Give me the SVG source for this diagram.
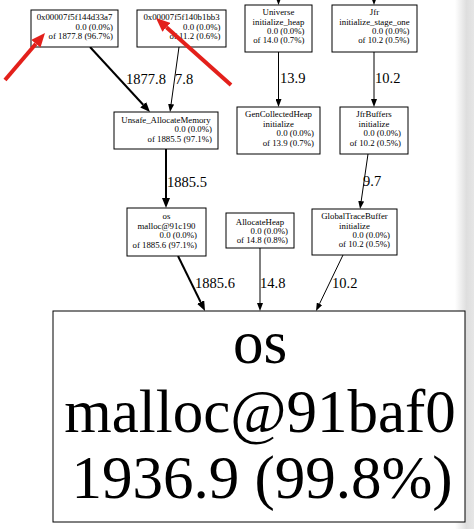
<svg xmlns="http://www.w3.org/2000/svg" width="474" height="529" viewBox="0 0 474 529">
<style>
text{font-family:"Liberation Serif","Times New Roman",serif;fill:#000}
.n text{font-size:8.8px}
.box{fill:#fff;stroke:#000;stroke-width:1}
.c{text-anchor:middle}
.r{text-anchor:end}
.lbl{font-size:14.5px}
.e1{stroke:#000;stroke-width:1;fill:none}
.e2{stroke:#000;stroke-width:2;fill:none}
.red{stroke:#e3201b;stroke-width:4;fill:none}
.big text{font-size:61px;text-anchor:middle}
</style>
<defs>
<marker id="ahS" markerUnits="userSpaceOnUse" viewBox="0 0 8 6" markerWidth="8" markerHeight="6" refX="0" refY="3" orient="auto"><path d="M0,0 L8,3 L0,6 z" fill="#000"/></marker>
<marker id="ahL" markerUnits="userSpaceOnUse" viewBox="0 0 10 8" markerWidth="10" markerHeight="8" refX="0" refY="4" orient="auto"><path d="M0,0 L10,4 L0,8 z" fill="#000"/></marker>
<marker id="ahR" markerUnits="userSpaceOnUse" viewBox="0 0 14 12" markerWidth="14" markerHeight="12" refX="0" refY="6" orient="auto"><path d="M0,0 L14,6 L0,12 z" fill="#e3201b"/></marker>
<linearGradient id="strip" x1="0" y1="0" x2="1" y2="0">
<stop offset="0" stop-color="#ffffff"/>
<stop offset="0.6" stop-color="#dedede"/>
<stop offset="1" stop-color="#e6e6e6"/>
</linearGradient>
</defs>
<rect width="474" height="529" fill="#fff"/>
<rect x="455" y="0" width="19" height="529" fill="url(#strip)"/>

<g id="edges">
<line class="e1" x1="278.5" y1="-12" x2="278.5" y2="-3" marker-end="url(#ahS)"/>
<line class="e1" x1="374" y1="-12" x2="374" y2="-3" marker-end="url(#ahS)"/>
<line class="e2" x1="90" y1="47" x2="143.2" y2="104.7" marker-end="url(#ahL)"/>
<line class="e1" x1="179" y1="47" x2="171.1" y2="104.1" marker-end="url(#ahS)"/>
<line class="e1" x1="278.5" y1="52" x2="278.5" y2="99" marker-end="url(#ahS)"/>
<line class="e1" x1="374" y1="52" x2="374" y2="99" marker-end="url(#ahS)"/>
<line class="e2" x1="166" y1="149" x2="166" y2="198" marker-end="url(#ahL)"/>
<line class="e1" x1="368" y1="154" x2="361.2" y2="201.1" marker-end="url(#ahS)"/>
<line class="e2" x1="178" y1="256" x2="200.6" y2="302" marker-end="url(#ahL)"/>
<line class="e1" x1="260" y1="248" x2="260" y2="303" marker-end="url(#ahS)"/>
<line class="e1" x1="343" y1="255" x2="319.5" y2="303.8" marker-end="url(#ahS)"/>
<text class="lbl" x="126" y="84">1877.8</text>
<text class="lbl" x="175" y="84">7.8</text>
<text class="lbl" x="280" y="83">13.9</text>
<text class="lbl" x="375" y="83">10.2</text>
<text class="lbl" x="167" y="187">1885.5</text>
<text class="lbl" x="363" y="186">9.7</text>
<text class="lbl" x="195" y="288">1885.6</text>
<text class="lbl" x="260" y="288">14.8</text>
<text class="lbl" x="332" y="288">10.2</text>
</g>

<g id="n1" class="n">
<rect class="box" x="31" y="10" width="87" height="37"/>
<text class="c" x="74.5" y="20">0x00007f5f144d33a7</text>
<text class="r" x="113" y="29.5">0.0 (0.0%)</text>
<text class="r" x="113" y="39">of 1877.8 (96.7%)</text>
</g>
<g id="n2" class="n">
<rect class="box" x="137" y="10" width="89" height="37"/>
<text class="c" x="181.5" y="20">0x00007f5f140b1bb3</text>
<text class="r" x="220.5" y="29.5">0.0 (0.0%)</text>
<text class="r" x="220.5" y="39">of 11.2 (0.6%)</text>
</g>
<g id="n3" class="n">
<rect class="box" x="245" y="5" width="67" height="47"/>
<text class="c" x="278.5" y="15">Universe</text>
<text class="c" x="278.5" y="24.5">initialize_heap</text>
<text class="r" x="304.5" y="34">0.0 (0.0%)</text>
<text class="r" x="304.5" y="43">of 14.0 (0.7%)</text>
</g>
<g id="n4" class="n">
<rect class="box" x="332" y="5" width="85" height="47"/>
<text class="c" x="374.5" y="15">Jfr</text>
<text class="c" x="374.5" y="24.5">initialize_stage_one</text>
<text class="r" x="409.5" y="34">0.0 (0.0%)</text>
<text class="r" x="409.5" y="43">of 10.2 (0.5%)</text>
</g>
<g id="n5" class="n">
<rect class="box" x="237" y="107" width="83" height="47"/>
<text class="c" x="278.5" y="117">GenCollectedHeap</text>
<text class="c" x="278.5" y="126.5">initialize</text>
<text class="r" x="314" y="136">0.0 (0.0%)</text>
<text class="r" x="314" y="145.5">of 13.9 (0.7%)</text>
</g>
<g id="n6" class="n">
<rect class="box" x="340" y="107" width="68" height="47"/>
<text class="c" x="374" y="117">JfrBuffers</text>
<text class="c" x="374" y="126.5">initialize</text>
<text class="r" x="401" y="136">0.0 (0.0%)</text>
<text class="r" x="401" y="145.5">of 10.2 (0.5%)</text>
</g>
<g id="n7" class="n">
<rect class="box" x="114" y="112" width="104" height="37"/>
<text class="c" x="166" y="123">Unsafe_AllocateMemory</text>
<text class="r" x="212" y="132">0.0 (0.0%)</text>
<text class="r" x="212" y="141.5">of 1885.5 (97.1%)</text>
</g>
<g id="n8" class="n">
<rect class="box" x="127" y="208" width="79" height="48"/>
<text class="c" x="166.5" y="219">os</text>
<text class="c" x="166.5" y="228.5">malloc@91c190</text>
<text class="r" x="197" y="238">0.0 (0.0%)</text>
<text class="r" x="197" y="247.5">of 1885.6 (97.1%)</text>
</g>
<g id="n9" class="n">
<rect class="box" x="226" y="213" width="68" height="35"/>
<text class="c" x="260" y="225">AllocateHeap</text>
<text class="r" x="288" y="233.5">0.0 (0.0%)</text>
<text class="r" x="288" y="242.5">of 14.8 (0.8%)</text>
</g>
<g id="n10" class="n">
<rect class="box" x="312" y="209" width="85" height="46"/>
<text class="c" x="354.5" y="219">GlobalTraceBuffer</text>
<text class="c" x="354.5" y="228.5">initialize</text>
<text class="r" x="390" y="238">0.0 (0.0%)</text>
<text class="r" x="390" y="247">of 10.2 (0.5%)</text>
</g>
<g id="n11" class="big">
<rect class="box" x="53" y="311" width="412" height="211" stroke="#333"/>
<text x="260" y="363">os</text>
<text x="260" y="432">malloc@91baf0</text>
<text x="262" y="498">1936.9 (99.8%)</text>
</g>

<g id="annotations">
<line class="red" x1="5" y1="80" x2="35.9" y2="43.7" marker-end="url(#ahR)"/>
<line class="red" x1="231" y1="85" x2="166.4" y2="27.3" marker-end="url(#ahR)"/>
</g>
</svg>
